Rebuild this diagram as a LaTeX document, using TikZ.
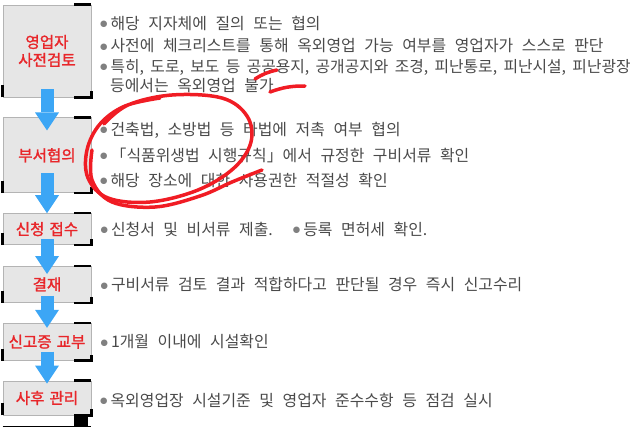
\documentclass[tikz,border=0pt]{standalone}
\usepackage{fontspec}
\setmainfont{Noto Sans CJK KR}
\newfontfamily\boldko[FakeBold=1.5]{Noto Sans CJK KR}
\newfontfamily\symfont{DejaVu Sans}
\usetikzlibrary{arrows.meta, positioning}

\definecolor{boxgray}{HTML}{E6E6E6}
\definecolor{edgegray}{HTML}{B4B4B4}
\definecolor{labelred}{HTML}{E8262A}
\definecolor{textgray}{HTML}{4A4A4A}
\definecolor{bulgray}{HTML}{808080}
\definecolor{arrowblue}{HTML}{3CA6F5}
\definecolor{penred}{HTML}{F01C24}

\newcommand\labelfont{\boldko\fontsize{15.6}{18}\selectfont\spaceskip 5pt\relax}
\newcommand\notefont{\fontsize{15.9}{18}\selectfont\spaceskip 8.6pt\relax}
\newcommand\tightfont{\fontsize{15.8}{18}\selectfont\spaceskip 6.4pt\relax}
\newcommand\bul{\raisebox{2.2pt}{\textcolor{bulgray}{\symfont\fontsize{8.5}{8.5}\selectfont ●}}\hspace{3pt}}
\newcommand\boxmarks[1]{%
  \draw[blackmark] ([xshift=-17pt]#1.north east) -- (#1.north east);
  \draw[blackmark] (#1.south west) -- ([yshift=12pt]#1.south west);
  \draw[blackmark] ([xshift=-17pt]#1.south east) -- (#1.south east) -- ([yshift=6pt]#1.south east);}

\begin{document}
\begin{tikzpicture}[
        x=1pt, y=-1pt,
        stage/.style={rectangle, draw=edgegray, line width=0.8pt, fill=boxgray, minimum width=88pt, inner sep=0pt, align=center, text=labelred, font=\labelfont},
        line/.style={inner sep=0pt, anchor=west, text=textgray, font=\notefont},
        flow/.style={line width=13pt, arrowblue, -{Triangle[length=18pt, width=24pt, line width=0pt]}},
        blackmark/.style={line width=2.5pt, black},
        pen/.style={penred, line width=3.5pt, line cap=round, line join=round}
    ]
    \useasboundingbox (0,0) rectangle (635,433);

    % Steps
    \node (check) [stage, minimum height=92pt] at (47,51) {영업자\\사전검토};
    \node (consult) [stage, minimum height=75pt, below=20pt of check] {부서협의};
    \node (apply) [stage, minimum height=31pt, below=20pt of consult] {신청 접수};
    \node (approve) [stage, minimum height=36pt, below=21pt of apply] {결재};
    \node (issue) [stage, minimum height=37pt, below=20pt of approve] {신고증 교부};
    \node (manage) [stage, minimum height=34pt, below=20pt of issue] {사후 관리};

    \boxmarks{check}
    \boxmarks{consult}
    \boxmarks{apply}
    \boxmarks{approve}
    \boxmarks{issue}
    \boxmarks{manage}
    \draw[line width=1.5pt] ([yshift=-11pt]manage.south west) -- ([yshift=-11pt]manage.south east);
    \fill ([xshift=-17pt]manage.south east) rectangle ([xshift=-3pt,yshift=-11pt]manage.south east);

    % Arrows
    \draw [flow] ([yshift=8pt]check.south) -- ([yshift=-13pt]consult.north);
    \draw [flow] ([yshift=20pt]consult.south) -- (apply.north);
    \draw [flow] ([yshift=6pt]apply.south) -- ([yshift=-8pt]approve.north);
    \draw [flow] ([yshift=7pt]approve.south) -- ([yshift=-5pt]issue.north);
    \draw [flow] ([yshift=9pt]issue.south) -- ([yshift=-3pt]manage.north);

    % Notes
    \node (n11) [line] at (100,23) {\bul 해당 지자체에 질의 또는 협의};
    \node (n12) [line] at (100,46) {\bul 사전에 체크리스트를 통해 옥외영업 가능 여부를 영업자가 스스로 판단};
    \node (n13) [line, font=\tightfont] at (100,67) {\bul 특히, 도로, 보도 등 공공용지, 공개공지와 조경, 피난통로, 피난시설, 피난광장};
    \node (n14) [line] at (110,86) {등에서는 옥외영업 불가};
    \node (n21) [line] at (100,130) {\bul 건축법, 소방법 등 타법에 저촉 여부 협의};
    \node (n22) [line] at (100,155) {\bul 「식품위생법 시행규칙」에서 규정한 구비서류 확인};
    \node (n23) [line] at (100,180) {\bul 해당 장소에 대한 사용권한 적절성 확인};
    \node (n3) [line, right=9pt of apply] {\bul 신청서 및 비서류 제출.\hspace{20pt}\bul 등록 면허세 확인.};
    \node (n4) [line, right=9pt of approve] {\bul 구비서류 검토 결과 적합하다고 판단될 경우 즉시 신고수리};
    \node (n5) [line, right=9pt of issue] {\bul 1개월 이내에 시설확인};
    \node (n6) [line] at (100,400) {\bul 옥외영업장 시설기준 및 영업자 준수수항 등 점검 실시};

    % Red pen
    \draw [pen] plot [smooth, tension=0.6] coordinates {(104,124) (128,105) (172,95) (222,98) (247,116) (251,142) (234,168) (198,190) (150,202) (108,198) (88,178) (87,150) (100,124) (125,106) (160,98)};
    \draw [pen] plot [smooth, tension=0.6] coordinates {(92,150) (92,180) (112,202) (155,207) (200,196) (232,182) (262,170)};
    \draw [pen] (255,79) to[bend left=10] (277,70);
    \draw [pen] (270,92) to[bend left=10] (305,86);

\end{tikzpicture}
\end{document}
